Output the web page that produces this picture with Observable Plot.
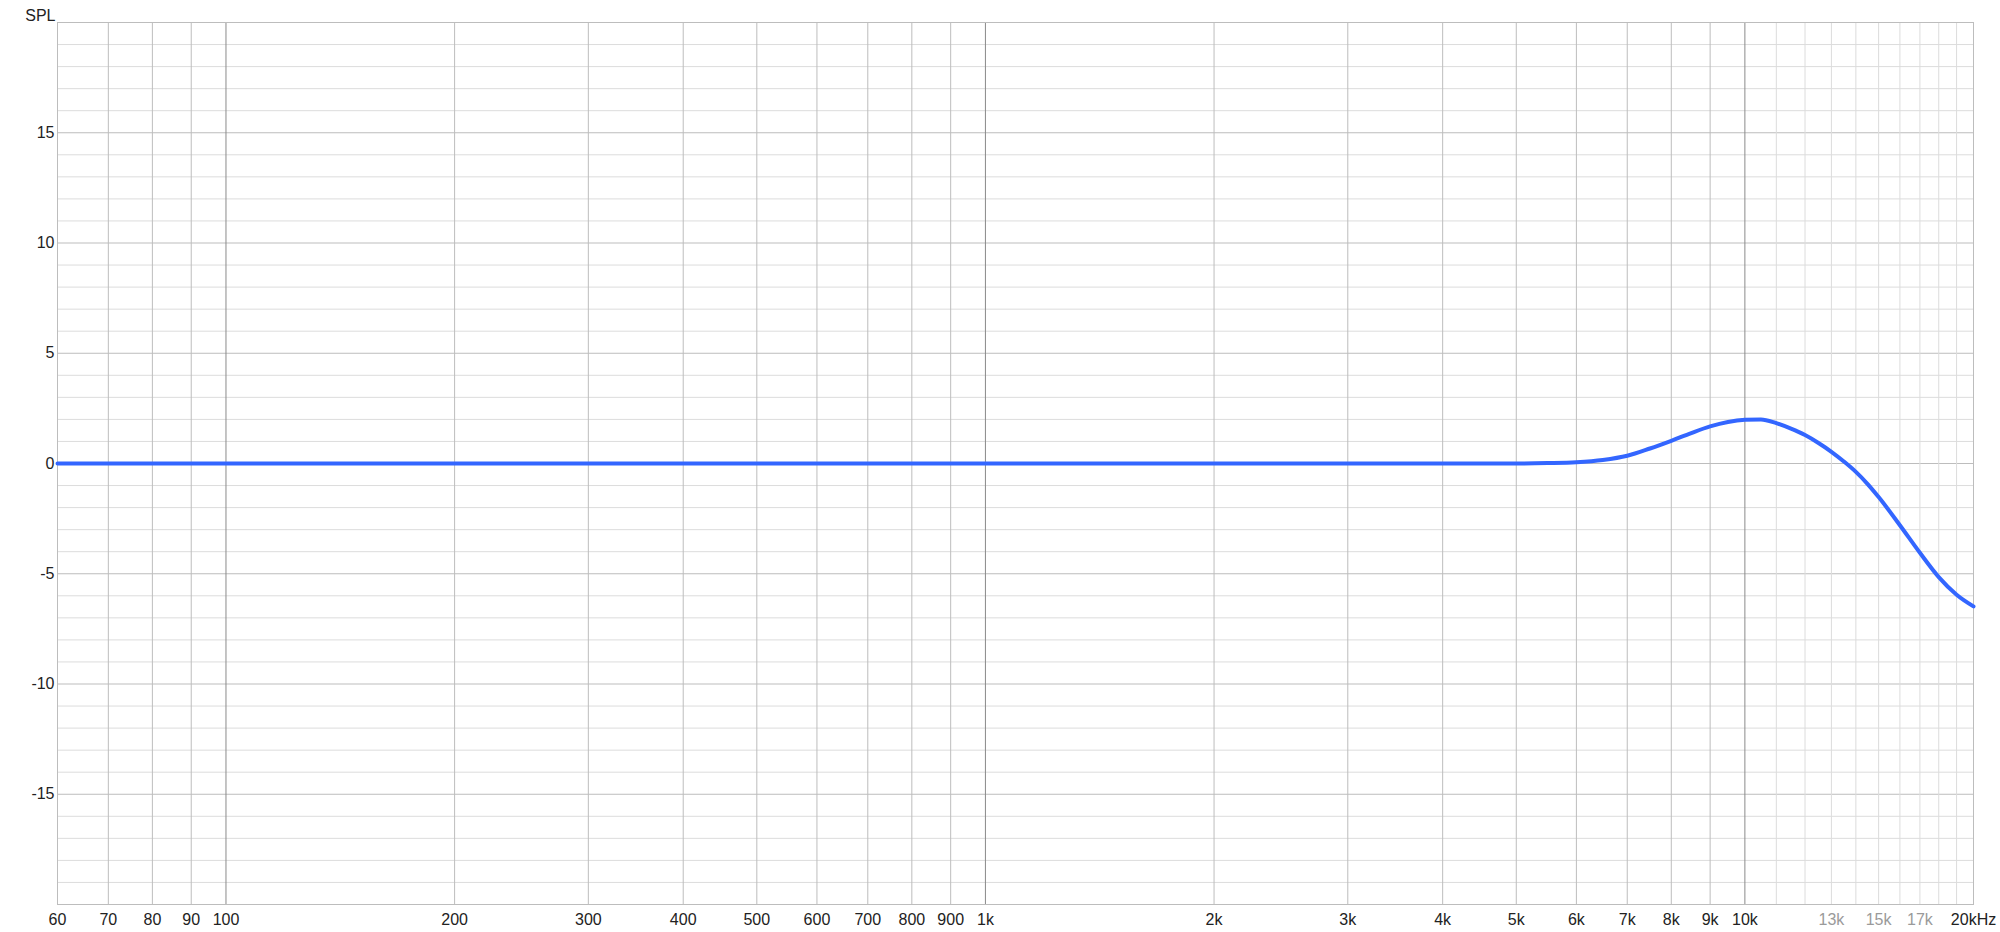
<!DOCTYPE html>
<html>
<head>
<meta charset="utf-8">
<script src="https://cdn.jsdelivr.net/npm/d3@7"></script>
<script src="https://cdn.jsdelivr.net/npm/@observablehq/plot@0.6"></script>
<style>
  html, body { margin: 0; padding: 0; background: #fff; }
  #chart svg { display: block; }
</style>
</head>
<body>
<div id="chart"></div>
<script>
// Frequency response data (Hz, dB SPL)
const freq = [60, 100, 1000, 4000, 4500, 5000, 5500, 6000, 6500, 7000, 7500, 8000, 8500, 9000, 9500, 10000, 10500, 11000, 11500, 12000, 12500, 13000, 13500, 14000, 14500, 15000, 16000, 17000, 18000, 19000, 20000];
const spl  = [0, 0, 0, 0, 0, 0, 0.02, 0.06, 0.16, 0.35, 0.68, 1.03, 1.38, 1.68, 1.88, 1.98, 2.0, 1.83, 1.58, 1.29, 0.93, 0.53, 0.09, -0.38, -0.92, -1.52, -2.8, -4.05, -5.15, -5.95, -6.48];

// Grid / tick definitions
const xMajor = [100, 1000, 10000];
const xMinor = [70, 80, 90, 200, 300, 400, 500, 600, 700, 800, 900, 2000, 3000, 4000, 5000, 6000, 7000, 8000, 9000];
const xLight = [11000, 12000, 13000, 14000, 15000, 16000, 17000, 18000, 19000];
const xTickValues = [60, 70, 80, 90, 100, 200, 300, 400, 500, 600, 700, 800, 900, 1000, 2000, 3000, 4000, 5000, 6000, 7000, 8000, 9000, 10000, 13000, 15000, 17000, 20000];
const xTickLabels = ["60", "70", "80", "90", "100", "200", "300", "400", "500", "600", "700", "800", "900", "1k", "2k", "3k", "4k", "5k", "6k", "7k", "8k", "9k", "10k", "13k", "15k", "17k", "20kHz"];
const xTickFaded = [13000, 15000, 17000];
const yMajor = [-15, -10, -5, 0, 5, 10, 15];
const yMinor = d3.range(-19, 20).filter(v => v % 5 !== 0);
const yLabel = "SPL";

const data = freq.map((f, i) => ({f, db: spl[i]}));
const xTicks = xTickValues.map((v, i) => ({v, label: xTickLabels[i], faded: xTickFaded.includes(v)}));

const chart = Plot.plot({
  width: 2000,
  height: 932,
  marginLeft: 57,
  marginRight: 27,
  marginTop: 22,
  marginBottom: 28,
  style: {fontFamily: "'Liberation Sans', Arial, Helvetica, sans-serif", fontSize: "16px", background: "#fff", color: "#333"},
  x: {type: "log", domain: [60, 20000], axis: null},
  y: {domain: [-20, 20], axis: null},
  marks: [
    Plot.ruleY(yMinor, {stroke: "#dcdcdc", strokeWidth: 1}),
    Plot.ruleY(yMajor, {stroke: "#bdbdbd", strokeWidth: 1}),
    Plot.ruleX(xLight, {stroke: "#dcdcdc", strokeWidth: 1}),
    Plot.ruleX(xMinor, {stroke: "#bdbdbd", strokeWidth: 1}),
    Plot.ruleX(xMajor, {stroke: "#8a8a8a", strokeWidth: 1}),
    Plot.frame({stroke: "#bdbdbd", strokeWidth: 1}),
    Plot.line(data, {x: "f", y: "db", stroke: "#3366ff", strokeWidth: 4, curve: "monotone-x"}),
    Plot.text(xTicks, {x: "v", text: "label", frameAnchor: "bottom", dy: 15, lineAnchor: "middle", fill: d => d.faded ? "#9a9a9a" : "#222"}),
    Plot.text(yMajor, {y: d => d, text: d => String(d), frameAnchor: "left", dx: -3, textAnchor: "end", fill: "#222"}),
    Plot.text([yLabel], {text: d => d, frameAnchor: "top-left", dx: -2, dy: -13, textAnchor: "end", fill: "#222"})
  ]
});

document.getElementById("chart").appendChild(chart);
</script>
</body>
</html>
